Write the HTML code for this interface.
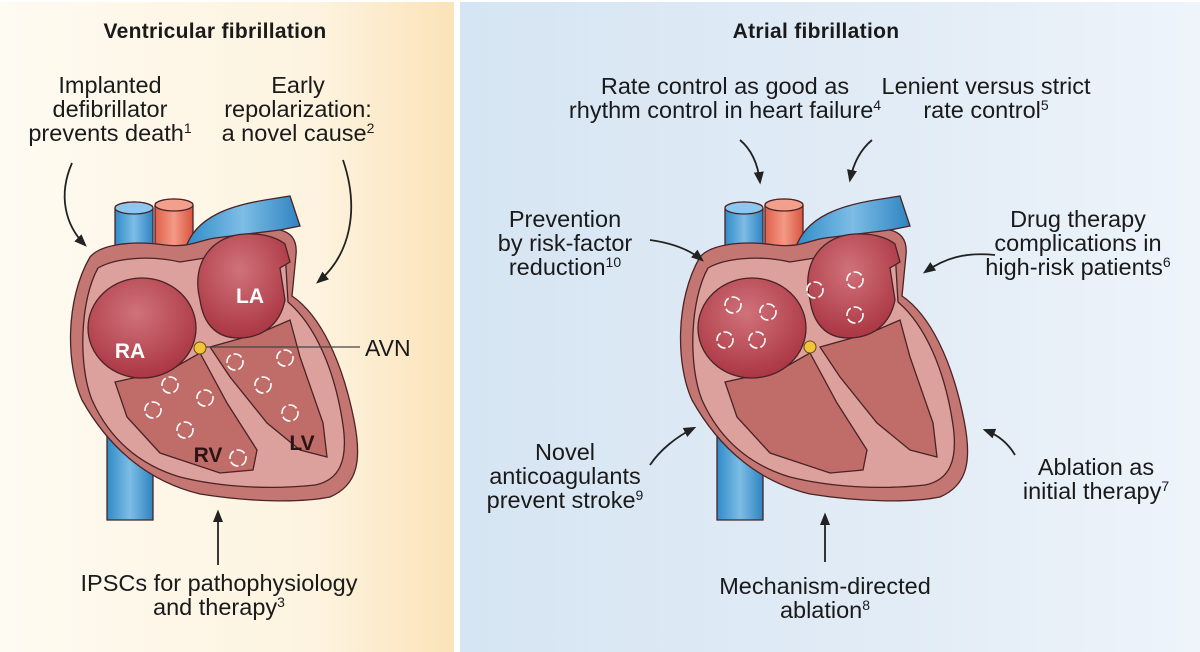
<!DOCTYPE html>
<html><head><meta charset="utf-8"><style>
body{margin:0;width:1200px;height:652px;overflow:hidden;background:#fff;position:relative;font-family:"Liberation Sans",sans-serif;color:#1a1a1a}
.p{position:absolute}
.t{position:absolute;font-size:23.5px;line-height:24px;text-align:center;white-space:nowrap;transform:translateX(-50%)}
.t sup{font-size:14px;vertical-align:8px;line-height:0}
.h{position:absolute;font-size:21px;font-weight:bold;letter-spacing:0.3px;transform:translateX(-50%);white-space:nowrap}
</style></head><body>
<div class="p" style="left:0;top:2px;width:454px;height:650px;background:linear-gradient(90deg,#fefbf2 0%,#fdf3df 70%,#fbe3b8 100%)"></div>
<div class="p" style="left:460px;top:2px;width:740px;height:650px;background:linear-gradient(90deg,#d6e5f3 0%,#e2ecf6 60%,#eef4fa 100%)"></div>
<svg class="p" style="left:0;top:0" width="1200" height="652" viewBox="0 0 1200 652">
<defs>
<radialGradient id="ch" cx="0.45" cy="0.35" r="0.7"><stop offset="0" stop-color="#d0727a"/><stop offset="1" stop-color="#a8323f"/></radialGradient>
<linearGradient id="bl" x1="0" x2="1"><stop offset="0" stop-color="#2f8bc7"/><stop offset="0.5" stop-color="#7dbde6"/><stop offset="1" stop-color="#2f84c0"/></linearGradient>
<linearGradient id="rd" x1="0" x2="1"><stop offset="0" stop-color="#e0604a"/><stop offset="0.5" stop-color="#f29a86"/><stop offset="1" stop-color="#d9553f"/></linearGradient>
<marker id="ah" viewBox="0 0 10 10" refX="8" refY="5" markerWidth="7" markerHeight="7" orient="auto"><path d="M0,1 L10,5 L0,9 z" fill="#222"/></marker>
<g id="heart" stroke="#4a2326" stroke-width="1.3">
<path d="M107,420 L107,520 L153,520 L153,420 z" fill="url(#bl)"/>
<path d="M115,270 L115,208 A19,6 0 0 1 153,208 L153,270 z" fill="url(#bl)"/>
<ellipse cx="134" cy="208" rx="19" ry="6" fill="#8cc8ee"/>
<path d="M155,270 L155,205 A19,6 0 0 1 193,205 L193,270 z" fill="url(#rd)"/>
<ellipse cx="174" cy="205" rx="19" ry="6" fill="#f2a08c"/>
<path d="M185,250 C195,215 235,205 265,200 L290,196 L300,226 L270,232 C245,236 215,245 210,262 z" fill="url(#bl)"/>
<path d="M90,257 C100,245 130,240 165,245 C190,248 200,240 215,238 L280,230 Q298,234 296,255 L292,296 C320,315 342,360 354,420 C362,460 358,485 330,497 C300,503 250,502 200,494 C150,482 110,450 82,400 C66,365 65,300 90,257 z" fill="#c47772"/>
<path d="M98,268 C115,258 150,255 180,262 L205,258 L285,250 L288,302 C315,325 335,370 343,425 C348,460 340,480 315,485 C270,490 220,487 180,477 C140,465 110,440 92,400 C78,365 80,300 98,268 z" fill="#dca19c"/>
<path d="M115,382 L170,370 L200,353 L227,403 L257,450 L253,470 L220,473 L160,453 L127,417 z" fill="#c06d6a"/>
<path d="M210,347 L260,333 L290,320 L300,357 L323,423 L327,457 L300,450 L267,423 L230,377 z" fill="#c06d6a"/>
<ellipse cx="142" cy="328" rx="54" ry="50" fill="url(#ch)"/>
<path d="M200,300 C190,260 215,235 245,234 C268,233 280,240 285,244 L290,262 L280,268 L285,300 C280,325 262,338 238,338 C215,338 203,322 200,300 z" fill="url(#ch)"/>
</g>
<g id="sw" fill="none" stroke="#fff" stroke-width="1.6" stroke-dasharray="9 3"><circle r="8"/></g>
</defs>
<use href="#heart"/>
<use href="#heart" transform="translate(610,0)"/>
<g>
<use href="#sw" x="170" y="385"/><use href="#sw" x="205" y="398"/><use href="#sw" x="153" y="410"/><use href="#sw" x="185" y="430"/><use href="#sw" x="238" y="458"/>
<use href="#sw" x="235" y="362"/><use href="#sw" x="285" y="358"/><use href="#sw" x="263" y="385"/><use href="#sw" x="290" y="413"/>
<use href="#sw" x="733" y="305"/><use href="#sw" x="768" y="312"/><use href="#sw" x="725" y="340"/><use href="#sw" x="757" y="340"/>
<use href="#sw" x="815" y="290"/><use href="#sw" x="855" y="280"/><use href="#sw" x="855" y="315"/>
</g>
<circle cx="200" cy="348" r="6" fill="#f2c43a" stroke="#6a4a10"/>
<circle cx="810" cy="347" r="6" fill="#f2c43a" stroke="#6a4a10"/>
<line x1="206" y1="347" x2="360" y2="347" stroke="#444" stroke-width="1.2"/>
<g font-family="Liberation Sans" font-weight="bold" font-size="21" fill="#fff" text-anchor="middle">
<text x="130" y="358">RA</text><text x="250" y="303">LA</text>
</g>
<g font-family="Liberation Sans" font-weight="bold" font-size="21" fill="#2a1515" text-anchor="middle">
<text x="208" y="462">RV</text><text x="302" y="450">LV</text>
</g>
<g fill="none" stroke="#222" stroke-width="1.8" marker-end="url(#ah)">
<path d="M72,163 C58,195 65,225 85,245"/>
<path d="M343,160 C360,210 350,255 318,282"/>
<path d="M218,565 L218,512"/>
<path d="M740,140 C752,150 758,165 760,182"/>
<path d="M872,140 C860,150 853,165 850,180"/>
<path d="M650,240 C672,243 690,250 702,260"/>
<path d="M995,255 C965,252 945,258 925,272"/>
<path d="M650,465 C660,450 676,437 694,428"/>
<path d="M1015,455 C1008,443 998,435 985,430"/>
<path d="M825,562 L825,515"/>
</g>
</svg>
<div class="h" style="left:215px;top:20px">Ventricular fibrillation</div>
<div class="h" style="left:816px;top:20px">Atrial fibrillation</div>
<div class="p" style="left:365px;top:335px;font-size:23px">AVN</div>
<div class="t" style="left:110px;top:73px">Implanted<br>defibrillator<br>prevents death<sup>1</sup></div>
<div class="t" style="left:298px;top:73px">Early<br>repolarization:<br>a novel cause<sup>2</sup></div>
<div class="t" style="left:219px;top:571px">IPSCs for pathophysiology<br>and therapy<sup>3</sup></div>
<div class="t" style="left:725px;top:74px">Rate control as good as<br>rhythm control in heart failure<sup>4</sup></div>
<div class="t" style="left:986px;top:74px">Lenient versus strict<br>rate control<sup>5</sup></div>
<div class="t" style="left:565px;top:207px">Prevention<br>by risk-factor<br>reduction<sup>10</sup></div>
<div class="t" style="left:1078px;top:207px">Drug therapy<br>complications in<br>high-risk patients<sup>6</sup></div>
<div class="t" style="left:565px;top:440px">Novel<br>anticoagulants<br>prevent stroke<sup>9</sup></div>
<div class="t" style="left:1096px;top:455px">Ablation as<br>initial therapy<sup>7</sup></div>
<div class="t" style="left:825px;top:574px">Mechanism-directed<br>ablation<sup>8</sup></div>
</body></html>
